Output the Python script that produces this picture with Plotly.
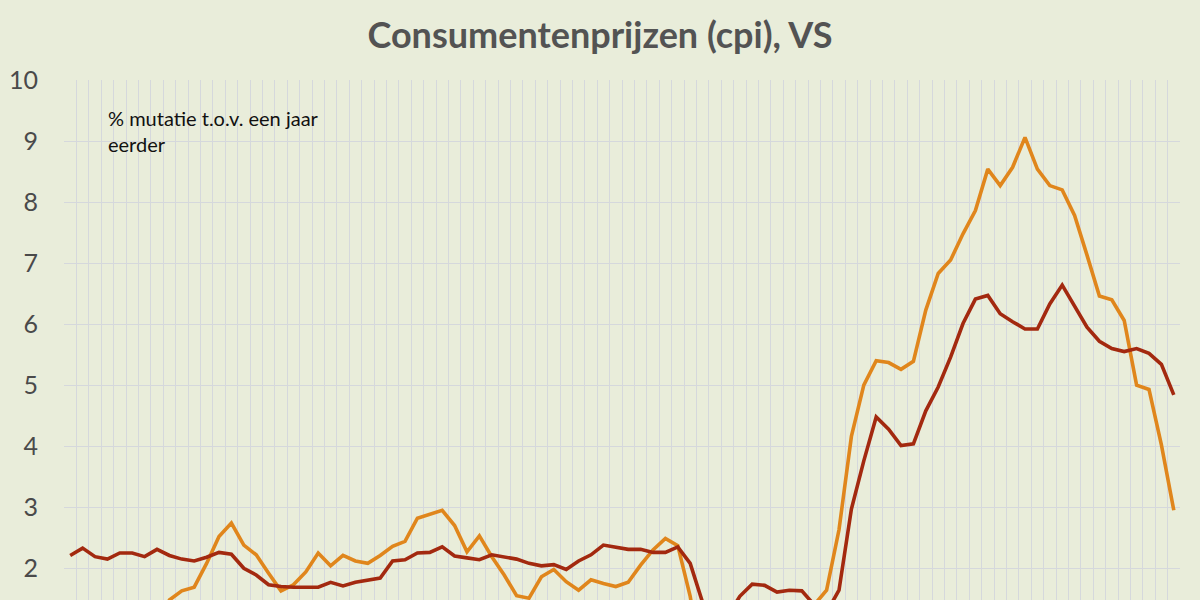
import plotly.graph_objects as go

# Monthly, Jan 2016 - Jun 2023 (year-on-year % change)
months = [f"{y}-{m:02d}" for y in range(2016, 2024) for m in range(1, 13)][:90]

cpi_total = [
    1.37, 1.02, 0.85, 1.13, 1.02, 1.01, 0.83, 1.06, 1.48, 1.63, 1.69, 2.08,
    2.52, 2.74, 2.38, 2.22, 1.92, 1.63, 1.73, 1.94, 2.25, 2.04, 2.21, 2.12,
    2.08, 2.21, 2.36, 2.44, 2.82, 2.88, 2.95, 2.70, 2.27, 2.53, 2.19, 1.89,
    1.55, 1.51, 1.86, 1.98, 1.78, 1.64, 1.81, 1.75, 1.70, 1.77, 2.05, 2.30,
    2.49, 2.37, 1.54, 0.33, 0.12, 0.65, 0.99, 1.31, 1.37, 1.18, 1.17, 1.36,
    1.40, 1.64, 2.63, 4.16, 5.00, 5.40, 5.37, 5.26, 5.39, 6.23, 6.83, 7.05,
    7.48, 7.86, 8.54, 8.27, 8.57, 9.06, 8.54, 8.27, 8.20, 7.78, 7.13, 6.46,
    6.40, 6.06, 5.00, 4.93, 4.02, 2.95,
]

cpi_core = [
    2.21, 2.33, 2.19, 2.15, 2.25, 2.25, 2.19, 2.31, 2.21, 2.15, 2.12, 2.18,
    2.26, 2.23, 2.00, 1.89, 1.73, 1.70, 1.69, 1.69, 1.69, 1.77, 1.71, 1.77,
    1.81, 1.84, 2.12, 2.14, 2.25, 2.26, 2.35, 2.20, 2.17, 2.14, 2.22, 2.18,
    2.15, 2.08, 2.04, 2.06, 1.98, 2.12, 2.22, 2.38, 2.35, 2.31, 2.31, 2.26,
    2.26, 2.35, 2.08, 1.44, 1.24, 1.21, 1.54, 1.74, 1.72, 1.61, 1.64, 1.63,
    1.40, 1.28, 1.64, 2.97, 3.76, 4.48, 4.28, 4.01, 4.04, 4.58, 4.97, 5.46,
    6.01, 6.41, 6.47, 6.17, 6.04, 5.92, 5.92, 6.33, 6.64, 6.29, 5.95, 5.72,
    5.60, 5.55, 5.60, 5.52, 5.34, 4.84,
]

y_ticks = [2, 3, 4, 5, 6, 7, 8, 9, 10]

BG = "#e9edda"
GRID = "#d5d8dc"
FONT = "Lato, 'Open Sans', sans-serif"

x_idx = list(range(len(months)))

fig = go.Figure()
fig.add_trace(go.Scatter(x=x_idx, y=cpi_total, mode="lines", name="cpi",
                         line=dict(color="#e0861c", width=3.6), customdata=months))
fig.add_trace(go.Scatter(x=x_idx, y=cpi_core, mode="lines", name="kern-cpi",
                         line=dict(color="#a3290f", width=3.6), customdata=months))

fig.update_layout(
    width=1200, height=600,
    paper_bgcolor=BG, plot_bgcolor=BG,
    margin=dict(l=64, r=20, t=80, b=0),
    showlegend=False,
    title=dict(text="<b>Consumentenprijzen (cpi), VS</b>", x=0.5, xanchor="center",
               y=1 - 35 / 600, yanchor="middle",
               font=dict(family=FONT, size=36, color="#535353")),
    annotations=[dict(text="% mutatie t.o.v. een jaar<br>eerder", xref="paper", yref="paper",
                      x=(106 - 64) / 1116, y=1 - (104 - 80) / 520, xanchor="left", yanchor="top",
                      align="left", showarrow=False,
                      font=dict(family=FONT, size=20, color="#111111"))],
)

fig.update_xaxes(range=[-0.5, len(months) - 0.5], tickmode="linear", tick0=-0.5, dtick=1,
                 showticklabels=False, showgrid=True, gridcolor=GRID, gridwidth=1,
                 zeroline=False, showline=False, ticks="")
fig.update_yaxes(range=[1.48, 10], tickvals=y_ticks, ticktext=[str(v) for v in y_ticks],
                 showgrid=True, gridcolor=GRID, gridwidth=1.3, zeroline=False,
                 ticks="", ticklabelstandoff=25,
                 tickfont=dict(family=FONT, size=25, color="#4a4a4a"))

fig.write_html("out.html", config={"displayModeBar": False},
               post_script="document.body.style.margin='0';document.body.style.background='#e9edda';")
